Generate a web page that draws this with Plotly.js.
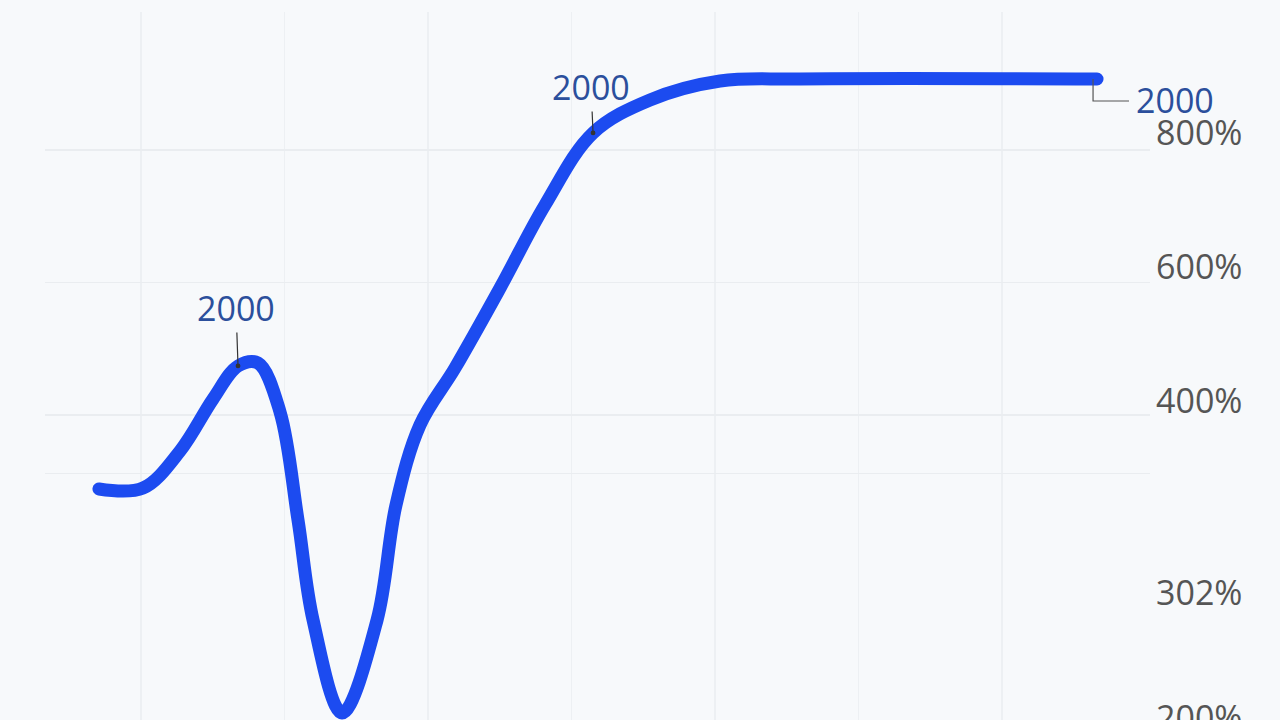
<!DOCTYPE html>
<html>
<head>
<meta charset="utf-8">
<script src="https://cdn.plot.ly/plotly-3.0.1.min.js"></script>
<style>
  html, body { margin: 0; padding: 0; background: #f7f9fb; }
  #chart { width: 1280px; height: 720px; }
</style>
</head>
<body>
<div id="chart"></div>
<script>
// Series values (x position, value in %)
const xVals = [0.707, 1.014, 1.272, 1.502, 1.676, 1.815, 1.969, 2.094, 2.199, 2.401,
               2.645, 2.777, 2.944, 3.188, 3.502, 3.815, 4.150, 4.547, 5.035, 5.592, 7.662];
const yVals = [288.3, 289.8, 345.7, 424.2, 474.0, 478.5, 404.5, 241.5, 90.6, -49.8,
               90.6, 264.2, 384.9, 470.9, 591.7, 717.0, 825.7, 875.5, 904.1, 907.2, 907.2];

// Annotated points (indices into the series) and their labels
const annIdx = [4, 16, 20];
const annLabels = ['2000', '2000', '2000'];

// Axis ticks
const gridX = [1, 2, 3, 4, 5, 6, 7];
const gridY = [800, 600, 400, 312];
const tickPos = [825.7, 623.4, 421.1, 131.3, -57.4];
const tickLabels = ['800%', '600%', '400%', '302%', '200%'];

const xRange = [0.331, 8.031];
const yRange = [-60.4, 1008.3];

const trace = {
  x: xVals, y: yVals, type: 'scatter', mode: 'lines',
  line: { color: '#1c4bf0', width: 13, shape: 'spline', smoothing: 1 },
  hoverinfo: 'skip', showlegend: false
};

const annFont = { family: 'Open Sans, Noto Sans, sans-serif', size: 34, color: '#2b4f9c' };
const annotations = [
  { x: xVals[annIdx[0]], y: yVals[annIdx[0]], text: annLabels[0], showarrow: true,
    ax: -2, ay: -58, arrowhead: 6, arrowsize: 1, arrowwidth: 1.2, arrowcolor: '#333',
    standoff: 0, font: annFont },
  { x: xVals[annIdx[1]], y: yVals[annIdx[1]], text: annLabels[1], showarrow: true,
    ax: -2, ay: -46, arrowhead: 6, arrowsize: 1, arrowwidth: 1.2, arrowcolor: '#333',
    standoff: 0, font: annFont },
  { x: xVals[annIdx[2]], y: yVals[annIdx[2]], text: annLabels[2], showarrow: false,
    xshift: 78, yshift: -21, font: annFont }
];

const shapes = [
  { type: 'path', xref: 'x', yref: 'y', xsizemode: 'pixel', ysizemode: 'pixel',
    xanchor: xVals[annIdx[2]], yanchor: yVals[annIdx[2]],
    path: 'M -4,0 L -4,-22 L 32,-22', line: { color: '#555', width: 1.2 } }
];

const layout = {
  width: 1280, height: 720,
  margin: { l: 45, r: 130, t: 12, b: 0 },
  paper_bgcolor: '#f7f9fb', plot_bgcolor: '#f7f9fb',
  showlegend: false,
  xaxis: { range: xRange, tickvals: gridX, showticklabels: false, showgrid: true,
           gridcolor: '#edf0f3', gridwidth: 1.5, zeroline: false, showline: false, ticks: '' },
  yaxis: { range: yRange, tickvals: gridY, showticklabels: false, showgrid: true,
           gridcolor: '#eaedf0', gridwidth: 1.5, zeroline: false, showline: false, ticks: '' },
  yaxis2: { range: yRange, overlaying: 'y', side: 'right', tickvals: tickPos, ticktext: tickLabels,
            showgrid: false, zeroline: false, showline: false, ticks: '', ticklabelstandoff: 5,
            ticklabeloverflow: 'allow',
            tickfont: { family: 'Open Sans, Noto Sans, sans-serif', size: 34, color: '#555' } },
  annotations: annotations,
  shapes: shapes
};

Plotly.newPlot('chart', [trace, { x: [], y: [], yaxis: 'y2', type: 'scatter', showlegend: false }], layout,
  { staticPlot: true, displayModeBar: false }).then(function () {
  document.querySelectorAll('.scatterlayer .js-line').forEach(function (p) {
    p.style.strokeLinecap = 'round';
  });
});
</script>
</body>
</html>
